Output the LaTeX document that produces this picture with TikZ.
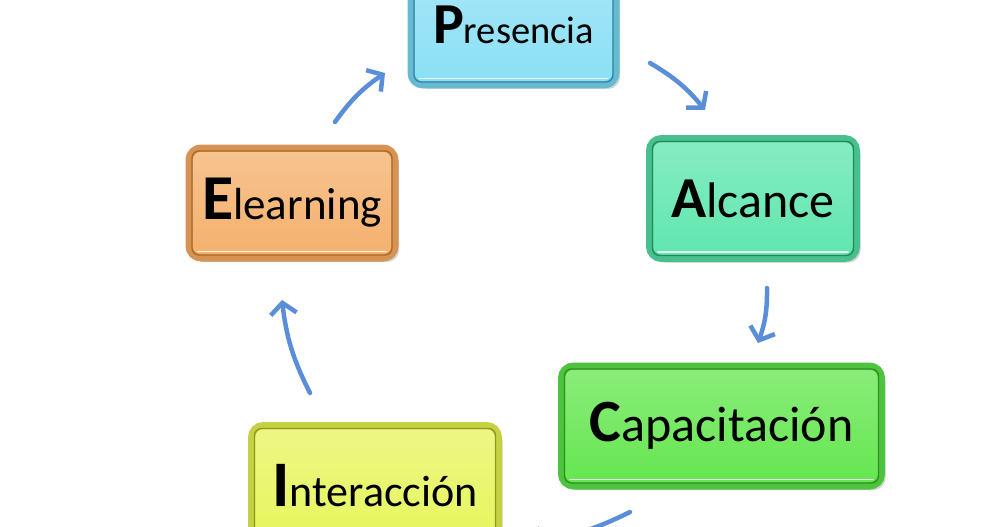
\documentclass[tikz,border=0pt]{standalone}
\usepackage{fontspec}
\setmainfont{Carlito}
\usetikzlibrary{positioning,shadows,arrows.meta}

\definecolor{presline}{HTML}{2F86A0}
\definecolor{presfill}{HTML}{8ADFF5}
\definecolor{alcline}{HTML}{23885F}
\definecolor{alcfill}{HTML}{5FE6AE}
\definecolor{capline}{HTML}{2E8F22}
\definecolor{capfill}{HTML}{64E64F}
\definecolor{intline}{HTML}{8F9A1E}
\definecolor{intfill}{HTML}{E6F55C}
\definecolor{elrline}{HTML}{A8672A}
\definecolor{elrfill}{HTML}{F4B06C}
\definecolor{arrblue}{HTML}{5B8ED8}

% bold initial
\newcommand{\ini}[3][60]{{\fontsize{#1}{#1}\selectfont\bfseries #2}#3}

\begin{document}
\begin{tikzpicture}[x=1pt,y=1pt,on grid,
                    >={Straight Barb[length=11pt,width=26pt]},
                    box/.style={rectangle,rounded corners=12pt,line width=7pt,
                      draw=#1fill!60!#1line,top color=#1fill!75!white,bottom color=#1fill,
                      minimum width=207pt,minimum height=120pt,
                      drop shadow={opacity=.35,shadow xshift=4pt,shadow yshift=-4pt}},
                    arr/.style={->,line width=4.5pt,arrblue,line cap=round}]
  \clip (0,0) rectangle (1002,-527);
  \node[box=pres,minimum width=205pt,font=\fontsize{38.5}{40}\selectfont] (pres) at (513.5,-25)
    {\ini[58]{P}{resencia}};
  \node[box=alc,font=\fontsize{50}{50}\selectfont] (alc) [below right=173.5pt and 239.5pt of pres]
    {\ini[58]{A}{lcance}};
  \node[box=cap,minimum width=320pt,font=\fontsize{50}{50}\selectfont] (cap) [below left=227.5pt and 31.5pt of alc]
    {\ini[60]{C}{apacitación}};
  \node[box=int,minimum width=247pt,font=\fontsize{44}{44}\selectfont] (int) [below left=59.5pt and 346.5pt of cap]
    {\ini[65]{I}{nteracción}};
  \node[box=elr,minimum width=206pt,minimum height=110pt,font=\fontsize{45}{45}\selectfont] (elr) [below left=178pt and 221.5pt of pres]
    {\ini[64]{E}{learning}};
  % bevel: inner groove and highlight
  \foreach \n in {pres,alc,cap,int,elr} {
    \draw[\n line,line width=1.3pt,rounded corners=7pt]
      ([shift={(6.5pt,6.5pt)}]\n.south west) rectangle ([shift={(-6.5pt,-6.5pt)}]\n.north east);
    \draw[white,opacity=.85,line width=1.6pt,line cap=round]
      ([xshift=12pt,yshift=10pt]\n.south west) -- ([xshift=-12pt,yshift=10pt]\n.south east);
  }
  % cycle
  \draw[arr] ([xshift=43pt,yshift=22.5pt]elr.north) to[bend left=10] ([xshift=-22.5pt,yshift=15.5pt]pres.south west);
  \draw[arr] ([xshift=30.5pt,yshift=25.5pt]pres.south east) to[bend left=10] ([xshift=-48pt,yshift=25pt]alc.north);
  \draw[arr] ([xshift=14pt,yshift=-26pt]alc.south) to[bend left=10] ([xshift=36.5pt,yshift=19.5pt]cap.north);
  \draw[arr] ([xshift=72pt,yshift=-22.5pt]cap.south west) to[bend left=10] ([xshift=26pt,yshift=7pt]int.south east);
  \draw[arr] ([xshift=-65pt,yshift=29pt]int.north) to[bend left=10] ([xshift=-10pt,yshift=-38.5pt]elr.south);
\end{tikzpicture}
\end{document}
